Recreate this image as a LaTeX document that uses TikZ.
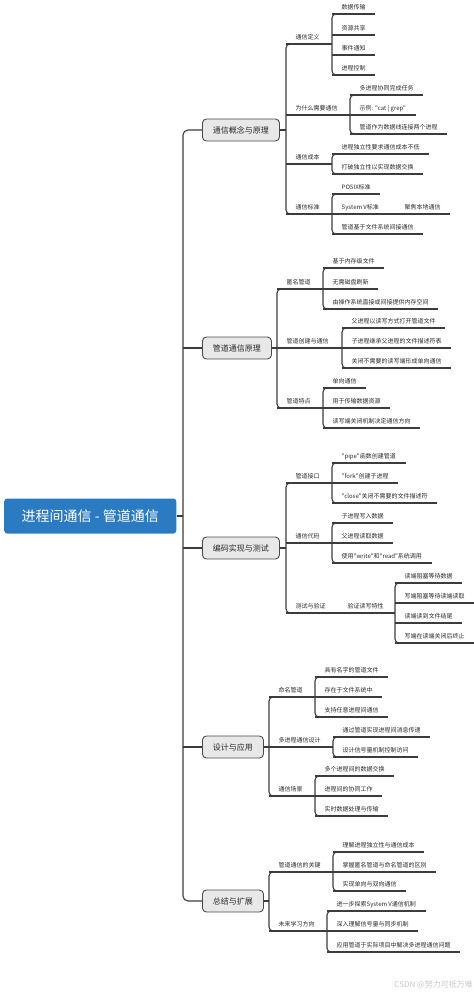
\documentclass[tikz,border=0pt]{standalone}
\usepackage{fontspec}
\setmainfont{Noto Sans CJK SC}[Ligatures=TeXOff]
\definecolor{linec}{HTML}{3C3C3C}
\definecolor{rootblue}{HTML}{2B7BC3}
\definecolor{lvfill}{HTML}{E8E8E8}
\definecolor{lvdraw}{HTML}{4A4A4A}
\definecolor{txtc}{HTML}{2A2A2A}
\newcommand\mmvbar[2]{\draw[conn,rounded corners=4] ([xshift=6]#1.south west) -| (#2.south west) -- ([xshift=6]#2.south west);}
\begin{document}
\begin{tikzpicture}[x=1pt,y=-1pt,
  conn/.style={draw=linec,line width=1.1pt},
  rootbox/.style={anchor=west,fill=rootblue,rounded corners=3,minimum height=35,inner xsep=17.5,text=white,font=\fontsize{14}{16}\selectfont},
  lvone/.style={anchor=west,fill=lvfill,draw=lvdraw,line width=0.9pt,rounded corners=4,minimum height=22,inner xsep=10.5,text=txtc,font=\fontsize{8}{9}\selectfont},
  ul/.style={anchor=south west,inner xsep=9.5,inner ysep=3.5,text height=5,text depth=1.2,text=txtc,font=\fontsize{6}{7}\selectfont,
    append after command={(\tikzlastnode.south west) edge[conn] (\tikzlastnode.south east)}}
]
\useasboundingbox (0,0) rectangle (474,994);

% root and level 1
\node[rootbox] (root) at (4,516) {进程间通信 - 管道通信};
\coordinate (tr) at (183,516);
\node[lvone] (c1) at (202,130) {通信概念与原理};
\node[lvone] (c2) at (202,348) {管道通信原理};
\node[lvone] (c3) at (202,548) {编码实现与测试};
\node[lvone] (c4) at (202,747) {设计与应用};
\node[lvone] (c5) at (202,901) {总结与扩展};
\draw[conn] (root.east) -- (tr);
\draw[conn,rounded corners=5] (c1.west) -| (tr) |- (c5.west);
\draw[conn] (c2.west) -- (c2.west -| tr);
\draw[conn] (c3.west) -- (c3.west -| tr);
\draw[conn] (c4.west) -- (c4.west -| tr);

% ---------- section 1
\node[ul] (a1) at (286,44) {通信定义};
\node[ul] (a2) at (286,115) {为什么需要通信};
\node[ul] (a3) at (286,164) {通信成本};
\node[ul] (a4) at (286,214) {通信标准};
\draw[conn] (c1.east) -- (c1.east -| a1.south west);
\mmvbar{a1}{a4}

\node[ul] (a1a) at (332,14) {数据传输};
\node[ul] (a1b) at (332,35) {资源共享};
\node[ul] (a1c) at (332,55) {事件通知};
\node[ul] (a1d) at (332,75) {进程控制};
\draw[conn] (a1.south east) -- (a1.south east -| a1a.south west);
\mmvbar{a1a}{a1d}

\node[ul] (a2a) at (350,95) {多进程协同完成任务};
\node[ul] (a2b) at (350,115) {示例: "cat | grep"};
\node[ul] (a2c) at (350,134) {管道作为数据线连接两个进程};
\draw[conn] (a2.south east) -- (a2.south east -| a2a.south west);
\mmvbar{a2a}{a2c}

\node[ul] (a3a) at (332,154) {进程独立性要求通信成本不低};
\node[ul] (a3b) at (332,174) {打破独立性以实现数据交换};
\draw[conn] (a3.south east) -- (a3.south east -| a3a.south west);
\mmvbar{a3a}{a3b}

\node[ul] (a4a) at (332,194) {POSIX标准};
\node[ul] (a4b) at (332,214) {System V标准};
\node[ul] (a4c) at (332,234) {管道基于文件系统间接通信};
\node[ul] (a4b1) at (395,214) {聚焦本地通信};
\draw[conn] (a4.south east) -- (a4.south east -| a4a.south west);
\draw[conn] (a4b.south east) -- (a4b1.south west);
\mmvbar{a4a}{a4c}

% ---------- section 2
\node[ul] (b1) at (277,289) {匿名管道};
\node[ul] (b2) at (277,348) {管道创建与通信};
\node[ul] (b3) at (277,408) {管道特点};
\draw[conn] (c2.east) -- (c2.east -| b1.south west);
\mmvbar{b1}{b3}

\node[ul] (b1a) at (323,268) {基于内存级文件};
\node[ul] (b1b) at (323,289) {无需磁盘刷新};
\node[ul] (b1c) at (323,309) {由操作系统直接或间接提供内存空间};
\draw[conn] (b1.south east) -- (b1.south east -| b1a.south west);
\mmvbar{b1a}{b1c}

\node[ul] (b2a) at (342,328) {父进程以读写方式打开管道文件};
\node[ul] (b2b) at (342,348) {子进程继承父进程的文件描述符表};
\node[ul] (b2c) at (342,368) {关闭不需要的读写端形成单向通信};
\draw[conn] (b2.south east) -- (b2.south east -| b2a.south west);
\mmvbar{b2a}{b2c}

\node[ul] (b3a) at (323,388) {单向通信};
\node[ul] (b3b) at (323,408) {用于传输数据资源};
\node[ul] (b3c) at (323,428) {读写端关闭机制决定通信方向};
\draw[conn] (b3.south east) -- (b3.south east -| b3a.south west);
\mmvbar{b3a}{b3c}

% ---------- section 3
\node[ul] (d1) at (286,483) {管道接口};
\node[ul] (d2) at (286,543) {通信代码};
\node[ul] (d3) at (286,613) {测试与验证};
\draw[conn] (c3.east) -- (c3.east -| d1.south west);
\mmvbar{d1}{d3}

\node[ul] (d1a) at (332,463) {"pipe"函数创建管道};
\node[ul] (d1b) at (332,483) {"fork"创建子进程};
\node[ul] (d1c) at (332,503) {"close"关闭不需要的文件描述符};
\draw[conn] (d1.south east) -- (d1.south east -| d1a.south west);
\mmvbar{d1a}{d1c}

\node[ul] (d2a) at (332,523) {子进程写入数据};
\node[ul] (d2b) at (332,543) {父进程读取数据};
\node[ul] (d2c) at (332,563) {使用"write"和"read"系统调用};
\draw[conn] (d2.south east) -- (d2.south east -| d2a.south west);
\mmvbar{d2a}{d2c}

\node[ul] (d3x) at (338,613) {验证读写特性};
\draw[conn] (d3.south east) -- (d3x.south west);
\node[ul] (d3a) at (395,583) {读端阻塞等待数据};
\node[ul] (d3b) at (395,603) {写端阻塞等待读端读取};
\node[ul] (d3c) at (395,623) {读端读到文件结尾};
\node[ul] (d3d) at (395,643) {写端在读端关闭后终止};
\draw[conn] (d3x.south east) -- (d3x.south east -| d3a.south west);
\mmvbar{d3a}{d3d}

% ---------- section 4
\node[ul] (e1) at (269,697) {命名管道};
\node[ul] (e2) at (269,747) {多进程通信设计};
\node[ul] (e3) at (269,796) {通信场景};
\draw[conn] (c4.east) -- (c4.east -| e1.south west);
\mmvbar{e1}{e3}

\node[ul] (e1a) at (315,677) {具有名字的管道文件};
\node[ul] (e1b) at (315,697) {存在于文件系统中};
\node[ul] (e1c) at (315,717) {支持任意进程间通信};
\draw[conn] (e1.south east) -- (e1.south east -| e1a.south west);
\mmvbar{e1a}{e1c}

\node[ul] (e2a) at (333,737) {通过管道实现进程间消息传递};
\node[ul] (e2b) at (333,757) {设计信号量机制控制访问};
\draw[conn] (e2.south east) -- (e2.south east -| e2a.south west);
\mmvbar{e2a}{e2b}

\node[ul] (e3a) at (315,776) {多个进程间的数据交换};
\node[ul] (e3b) at (315,796) {进程间的协同工作};
\node[ul] (e3c) at (315,816) {实时数据处理与传输};
\draw[conn] (e3.south east) -- (e3.south east -| e3a.south west);
\mmvbar{e3a}{e3c}

% ---------- section 5
\node[ul] (f1) at (269,872) {管道通信的关键};
\node[ul] (f2) at (269,931) {未来学习方向};
\draw[conn] (c5.east) -- (c5.east -| f1.south west);
\mmvbar{f1}{f2}

\node[ul] (f1a) at (333,852) {理解进程独立性与通信成本};
\node[ul] (f1b) at (333,872) {掌握匿名管道与命名管道的区别};
\node[ul] (f1c) at (333,891) {实现单向与双向通信};
\draw[conn] (f1.south east) -- (f1.south east -| f1a.south west);
\mmvbar{f1a}{f1c}

\node[ul] (f2a) at (327,911) {进一步探索System V通信机制};
\node[ul] (f2b) at (327,931) {深入理解信号量与同步机制};
\node[ul] (f2c) at (327,952) {应用管道于实际项目中解决多进程通信问题};
\draw[conn] (f2.south east) -- (f2.south east -| f2a.south west);
\mmvbar{f2a}{f2c}

% watermark
\node[anchor=east,text=black!22,font=\fontsize{8}{9}\selectfont,inner sep=0] (wm) at (473,985) {CSDN @努力可抵万难};
\end{tikzpicture}
\end{document}
